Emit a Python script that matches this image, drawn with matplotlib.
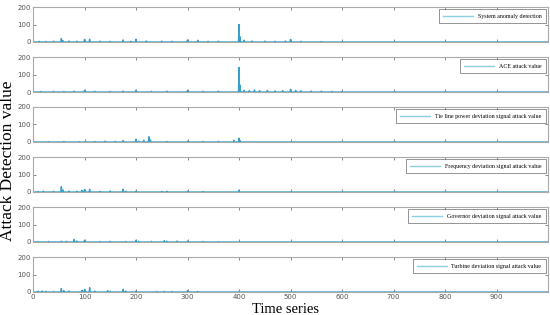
import numpy as np
import matplotlib.pyplot as plt

n_points = 1000
labels = ['System anomaly detection', 'ACE attack value',
          'Tie line power deviation signal attack value',
          'Frequency deviation signal attack value',
          'Governor deviation signal attack value',
          'Turbine deviation signal attack value']

# spikes: (time index, value); everything else ~0
sys_t = [12, 25, 40, 55, 58, 70, 85, 100, 110, 130, 150, 175, 190, 200, 220, 250, 270, 300, 320, 340,
         360, 400, 402, 410, 425, 450, 470, 490, 500, 520, 560, 600]
sys_v = [4, 3, 5, 20, 8, 6, 5, 15, 16, 5, 4, 12, 4, 16, 6, 5, 4, 12, 10, 4,
         5, 100, 30, 10, 6, 5, 4, 6, 15, 4, 3, 2]
ace_t = [15, 40, 60, 80, 100, 120, 150, 175, 200, 230, 260, 300, 330, 360, 400, 402, 410, 420, 430,
         440, 455, 470, 485, 500, 510, 520, 540, 560, 580, 600]
ace_v = [3, 4, 3, 5, 10, 4, 3, 6, 10, 4, 5, 9, 4, 5, 140, 40, 10, 8, 12,
         8, 9, 7, 8, 15, 9, 7, 6, 5, 4, 3]
tie_t = [30, 60, 90, 120, 140, 160, 175, 200, 205, 215, 225, 228, 260, 300, 330, 360, 390, 400, 402]
tie_v = [2, 3, 2, 3, 5, 4, 8, 15, 5, 10, 30, 12, 3, 5, 3, 4, 10, 22, 8]
freq_t = [10, 20, 40, 55, 58, 70, 85, 95, 100, 110, 130, 150, 175, 180, 200, 250, 260, 300, 330, 400]
freq_v = [3, 5, 4, 30, 12, 6, 5, 10, 15, 16, 4, 6, 16, 5, 6, 4, 5, 5, 3, 10]
gov_t = [10, 30, 55, 65, 80, 85, 100, 130, 150, 180, 200, 205, 230, 255, 260, 280, 300, 330, 360]
gov_v = [2, 3, 5, 4, 15, 6, 10, 3, 4, 3, 10, 5, 4, 8, 5, 6, 5, 3, 2]
tur_t = [10, 18, 25, 40, 55, 60, 70, 95, 100, 110, 120, 145, 150, 175, 180, 200, 240, 255, 270, 300, 320]
tur_v = [5, 6, 4, 3, 20, 8, 6, 10, 15, 25, 5, 8, 4, 15, 6, 6, 3, 4, 3, 8, 3]

spikes = [(sys_t, sys_v), (ace_t, ace_v), (tie_t, tie_v),
          (freq_t, freq_v), (gov_t, gov_v), (tur_t, tur_v)]

t = np.arange(n_points)
line_col = '#3a9fc6'

fig = plt.figure(figsize=(5.5, 3.15), dpi=100)
W, H = 550, 315
for i, (lab, (st, sv)) in enumerate(zip(labels, spikes)):
    top = 7 + 50 * i
    ax = fig.add_axes([33 / W, 1 - (top + 35) / H, 515 / W, 35 / H])
    y = np.zeros(n_points)
    y[st] = sv
    ax.plot(t, y, color=line_col, lw=1.0, label=lab)
    ax.set_xlim(0, 1000)
    ax.set_ylim(0, 200)
    ax.set_yticks([0, 100, 200])
    ax.set_xticks(range(0, 1000, 100))
    ax.tick_params(direction='in', length=2.5, width=0.5, labelsize=5, colors='#555555',
                   top=True, right=True, pad=1.5)
    if i < 5:
        ax.set_xticklabels([])
    for s in ax.spines.values():
        s.set_color('#aaaaaa')
        s.set_linewidth(0.8)
    leg = ax.legend(loc='upper right', frameon=True, fancybox=False,
                    prop={'family': 'Liberation Serif', 'size': 4.3},
                    handlelength=5, borderpad=0.7, borderaxespad=0.4)
    leg.get_frame().set_edgecolor('#444444')
    leg.get_frame().set_linewidth(0.5)
    for h in leg.get_lines():
        h.set_color('#8ccfe0')

fig.text(0.014, 0.49, 'Attack Detection value', rotation=90, ha='center', va='center',
         family='Liberation Serif', fontsize=12.5)
fig.text(0.52, 0.018, 'Time series', ha='center', va='center',
         family='Liberation Serif', fontsize=10.5)

fig.savefig('out.png', dpi=100)
